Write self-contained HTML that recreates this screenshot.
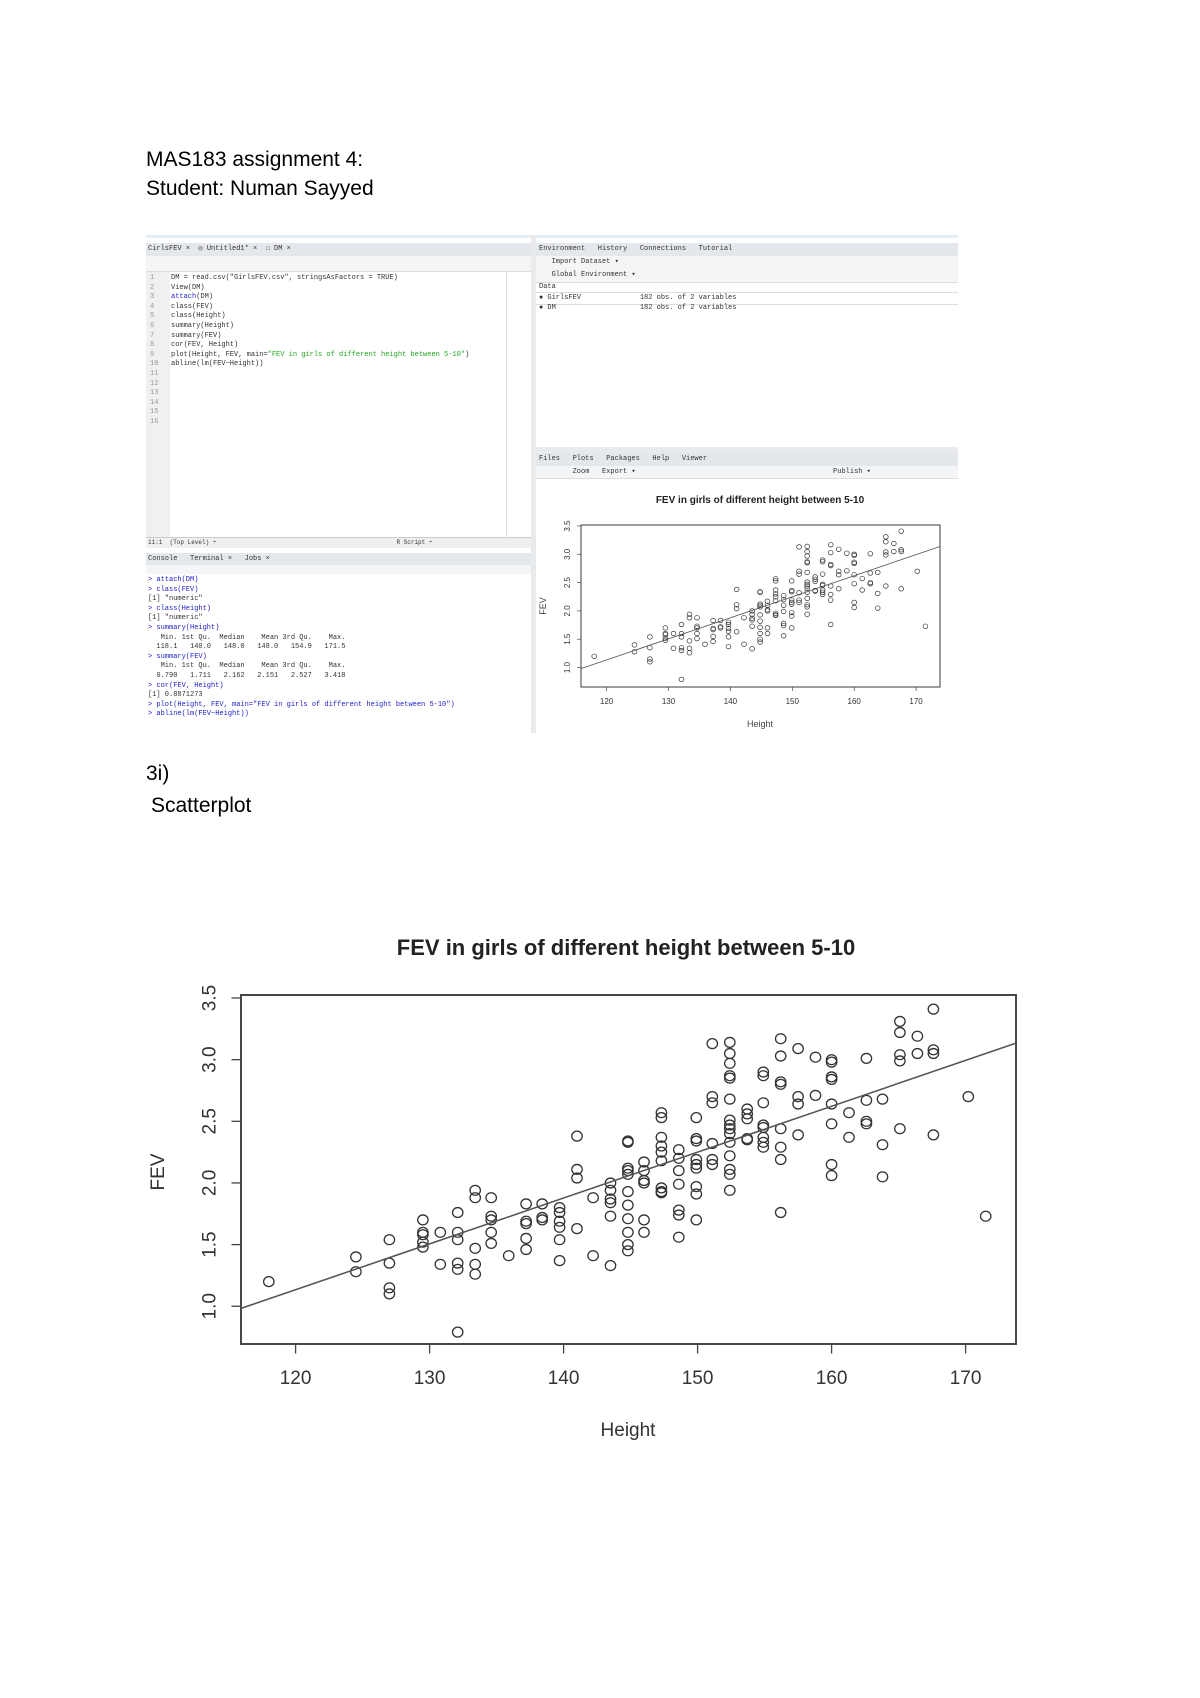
<!DOCTYPE html>
<html><head><meta charset="utf-8"><style>
body{margin:0;background:#fff;}
.pg{position:relative;width:1200px;height:1698px;overflow:hidden;background:#fff;font-family:"Liberation Sans",sans-serif;}
.t{position:absolute;color:#000;font-size:21px;white-space:nowrap;}
.m{position:absolute;font-family:"Liberation Mono",monospace;font-size:7px;color:#333;white-space:pre;line-height:9.6px;}
</style></head><body><div class="pg">
<div class="t" style="left:146px;top:148px">MAS183 assignment 4:</div>
<div class="t" style="left:146px;top:177px">Student: Numan Sayyed</div>
<div class="t" style="left:146px;top:762px">3i)</div>
<div class="t" style="left:151px;top:794px">Scatterplot</div>

<div style="position:absolute;left:146px;top:235px;width:812px;height:498px;background:#fff;overflow:hidden">
 <div style="position:absolute;left:0;top:0;width:812px;height:3px;background:#e6eef4"></div>
 <div style="position:absolute;left:0;top:8px;width:385px;height:13px;background:#e4e8ec;border-bottom:1px solid #ccc"></div>
 <div style="position:absolute;left:0;top:21px;width:385px;height:15px;background:#f3f5f7;border-bottom:1px solid #ddd"></div>
 <div style="position:absolute;left:0;top:37px;width:24px;height:265px;background:#f0f0f0"></div>
 <div style="position:absolute;left:360px;top:37px;width:1px;height:265px;background:#ddd"></div>
 <div style="position:absolute;left:0;top:302px;width:385px;height:10px;background:#f0f0f0;border-top:1px solid #ccc"></div>
 <div style="position:absolute;left:0;top:318px;width:385px;height:12px;background:#e4e8ec;border-bottom:1px solid #ccc"></div>
 <div style="position:absolute;left:0;top:330px;width:385px;height:9px;background:#f3f5f7"></div>
 <div style="position:absolute;left:385px;top:0;width:5px;height:498px;background:#e8eaec"></div>
 <div style="position:absolute;left:390px;top:8px;width:422px;height:13px;background:#e4e8ec;border-bottom:1px solid #ccc"></div>
 <div style="position:absolute;left:390px;top:21px;width:422px;height:26px;background:#f3f5f7;border-bottom:1px solid #ddd"></div>
 <div style="position:absolute;left:390px;top:57px;width:422px;height:1px;background:#ddd"></div>
 <div style="position:absolute;left:390px;top:69px;width:422px;height:1px;background:#ddd"></div>
 <div style="position:absolute;left:390px;top:212px;width:422px;height:6px;background:#e8eaec"></div>
 <div style="position:absolute;left:390px;top:218px;width:422px;height:13px;background:#e4e8ec;border-bottom:1px solid #ccc"></div>
 <div style="position:absolute;left:390px;top:231px;width:422px;height:12px;background:#f3f5f7;border-bottom:1px solid #ddd"></div>
 <div class="m" style="left:2px;top:10px">CirlsFEV ×  ◎ Untitled1* ×  ☐ DM ×</div>
 <div class="m" style="left:4px;top:39px;color:#999">1
2
3
4
5
6
7
8
9
10
11
12
13
14
15
16</div>
 <div class="m" style="left:25px;top:39px">DM = read.csv("GirlsFEV.csv", stringsAsFactors = TRUE)
View(DM)
<span style="color:#22c">attach</span>(DM)
class(FEV)
class(Height)
summary(Height)
summary(FEV)
cor(FEV, Height)
plot(Height, FEV, main=<span style="color:#2a2">"FEV in girls of different height between 5-10"</span>)
abline(lm(FEV~Height))</div>
 <div class="m" style="left:2px;top:303px;font-size:6px">11:1  (Top Level) ÷                                                  R Script ÷</div>
 <div class="m" style="left:2px;top:320px">Console   Terminal ×   Jobs ×</div>
 <div class="m" style="left:2px;top:341px;color:#22c">&gt; attach(DM)
&gt; class(FEV)
<span style="color:#333">[1] "numeric"</span>
&gt; class(Height)
<span style="color:#333">[1] "numeric"</span>
&gt; summary(Height)
<span style="color:#333">   Min. 1st Qu.  Median    Mean 3rd Qu.    Max.
  118.1   140.0   148.0   148.0   154.9   171.5</span>
&gt; summary(FEV)
<span style="color:#333">   Min. 1st Qu.  Median    Mean 3rd Qu.    Max.
  0.790   1.711   2.162   2.151   2.527   3.418</span>
&gt; cor(FEV, Height)
<span style="color:#333">[1] 0.8871273</span>
&gt; plot(Height, FEV, main="FEV in girls of different height between 5-10")
&gt; abline(lm(FEV~Height))</div>
 <div class="m" style="left:393px;top:10px">Environment   History   Connections   Tutorial</div>
 <div class="m" style="left:393px;top:23px">   Import Dataset ▾</div>
 <div class="m" style="left:393px;top:36px">   Global Environment ▾</div>
 <div class="m" style="left:393px;top:48px">Data</div>
 <div class="m" style="left:393px;top:59px">● GirlsFEV              182 obs. of 2 variables
● DM                    182 obs. of 2 variables</div>
 <div class="m" style="left:393px;top:220px">Files   Plots   Packages   Help   Viewer</div>
 <div class="m" style="left:393px;top:233px">        Zoom   Export ▾                                               Publish ▾</div>
</div>

<svg id="s" width="1200" height="1698" style="position:absolute;left:0;top:0" xmlns="http://www.w3.org/2000/svg">
 <g font-family="Liberation Sans, sans-serif">
 <text x="626" y="955" text-anchor="middle" font-size="22" font-weight="bold" fill="#222">FEV in girls of different height between 5-10</text>
 <text x="628" y="1436" text-anchor="middle" font-size="19" fill="#333">Height</text>
 <text transform="translate(164,1172) rotate(-90)" text-anchor="middle" font-size="19" fill="#333">FEV</text>
 <text x="760" y="503" text-anchor="middle" font-size="10" font-weight="bold" fill="#222">FEV in girls of different height between 5-10</text>
 <text x="760" y="727" text-anchor="middle" font-size="9" fill="#444">Height</text>
 <text transform="translate(546,606) rotate(-90)" text-anchor="middle" font-size="9" fill="#444">FEV</text>
 </g>
 <g id="big"></g><g id="small"></g>
</svg>
<script>
var d=[118,1.2,124.5,1.4,124.5,1.28,127,1.54,127,1.35,127,1.15,127,1.1,129.5,1.7,129.5,1.6,129.5,1.58,129.5,1.52,129.5,1.48,130.8,1.6,130.8,1.34,132.1,1.76,132.1,1.6,132.1,1.54,132.1,1.35,132.1,1.3,132.1,0.79,133.4,1.94,133.4,1.88,133.4,1.47,133.4,1.34,133.4,1.26,134.6,1.88,134.6,1.73,134.6,1.7,134.6,1.6,134.6,1.51,135.9,1.41,137.2,1.83,137.2,1.69,137.2,1.67,137.2,1.55,137.2,1.46,138.4,1.83,138.4,1.72,138.4,1.7,139.7,1.8,139.7,1.76,139.7,1.69,139.7,1.64,139.7,1.54,139.7,1.37,141,2.38,141,2.11,141,2.04,141,1.63,142.2,1.88,142.2,1.41,143.5,2.0,143.5,1.94,143.5,1.87,143.5,1.84,143.5,1.73,143.5,1.33,144.8,2.34,144.8,2.33,144.8,2.12,144.8,2.1,144.8,2.07,144.8,1.93,144.8,1.82,144.8,1.71,144.8,1.6,144.8,1.5,144.8,1.45,146,2.17,146,2.1,146,2.02,146,2.0,146,1.7,146,1.6,147.3,2.57,147.3,2.53,147.3,2.37,147.3,2.3,147.3,2.25,147.3,2.18,147.3,1.96,147.3,1.93,147.3,1.92,148.6,2.27,148.6,2.2,148.6,2.1,148.6,1.99,148.6,1.78,148.6,1.74,148.6,1.56,149.9,2.53,149.9,2.36,149.9,2.34,149.9,2.19,149.9,2.15,149.9,2.12,149.9,1.97,149.9,1.91,149.9,1.7,151.1,3.13,151.1,2.7,151.1,2.65,151.1,2.32,151.1,2.19,151.1,2.15,152.4,3.14,152.4,3.05,152.4,2.97,152.4,2.87,152.4,2.85,152.4,2.68,152.4,2.51,152.4,2.47,152.4,2.44,152.4,2.4,152.4,2.33,152.4,2.22,152.4,2.11,152.4,2.07,152.4,1.94,153.7,2.6,153.7,2.56,153.7,2.52,153.7,2.36,153.7,2.35,154.9,2.9,154.9,2.87,154.9,2.65,154.9,2.47,154.9,2.45,154.9,2.37,154.9,2.33,154.9,2.29,156.2,3.17,156.2,3.03,156.2,2.82,156.2,2.8,156.2,2.44,156.2,2.29,156.2,2.19,156.2,1.76,157.5,3.09,157.5,2.7,157.5,2.64,157.5,2.39,158.8,3.02,158.8,2.71,160,3.0,160,2.98,160,2.86,160,2.84,160,2.64,160,2.48,160,2.15,160,2.06,161.3,2.57,161.3,2.37,162.6,3.01,162.6,2.67,162.6,2.5,162.6,2.48,163.8,2.68,163.8,2.31,163.8,2.05,165.1,3.31,165.1,3.22,165.1,3.04,165.1,2.99,165.1,2.44,166.4,3.19,166.4,3.05,167.6,3.41,167.6,3.08,167.6,3.05,167.6,2.39,170.2,2.7,171.5,1.73];
function plot(id,L,R,T,B,x120,xs,y35,ys,r,fs,sw,lab){
 var h='',X=function(v){return x120+(v-120)*xs},Y=function(v){return y35-(v-3.5)*ys};
 h+='<rect x="'+L+'" y="'+T+'" width="'+(R-L)+'" height="'+(B-T)+'" fill="none" stroke="#444" stroke-width="'+(sw*1.5)+'"/>';
 for(var i=0;i<d.length;i+=2)h+='<ellipse cx="'+X(d[i]).toFixed(1)+'" cy="'+Y(d[i+1]).toFixed(1)+'" rx="'+r+'" ry="'+(r*0.95)+'" fill="none" stroke="#333" stroke-width="'+sw+'"/>';
 var a=-3.33,b=0.0372;
 h+='<line x1="'+L+'" y1="'+Y(a+b*(120+(L-x120)/xs))+'" x2="'+R+'" y2="'+Y(a+b*(120+(R-x120)/xs))+'" stroke="#555" stroke-width="'+(sw*1.2)+'"/>';
 for(var v=120;v<=170;v+=10){var x=X(v);h+='<line x1="'+x+'" y1="'+B+'" x2="'+x+'" y2="'+(B+lab*0.5)+'" stroke="#444" stroke-width="'+sw+'"/><text x="'+x+'" y="'+(B+lab*2.1)+'" text-anchor="middle" font-size="'+fs+'" fill="#333" font-family="Liberation Sans, sans-serif">'+v+'</text>';}
 for(var k=0;k<6;k++){var v=1+k*0.5,y=Y(v);h+='<line x1="'+L+'" y1="'+y+'" x2="'+(L-lab*0.5)+'" y2="'+y+'" stroke="#444" stroke-width="'+sw+'"/><text transform="translate('+(L-lab*1.35)+','+y+') rotate(-90)" text-anchor="middle" font-size="'+fs+'" fill="#333" font-family="Liberation Sans, sans-serif">'+v.toFixed(1)+'</text>';}
 document.getElementById(id).innerHTML=h;
}
plot('big',241,1016,995,1344,295.6,13.4,998,123.3,5.2,19,1.3,19);
plot('small',581,940,525,687,606.6,6.19,526,56.6,2.4,8,0.7,8);
</script>
</div></body></html>
